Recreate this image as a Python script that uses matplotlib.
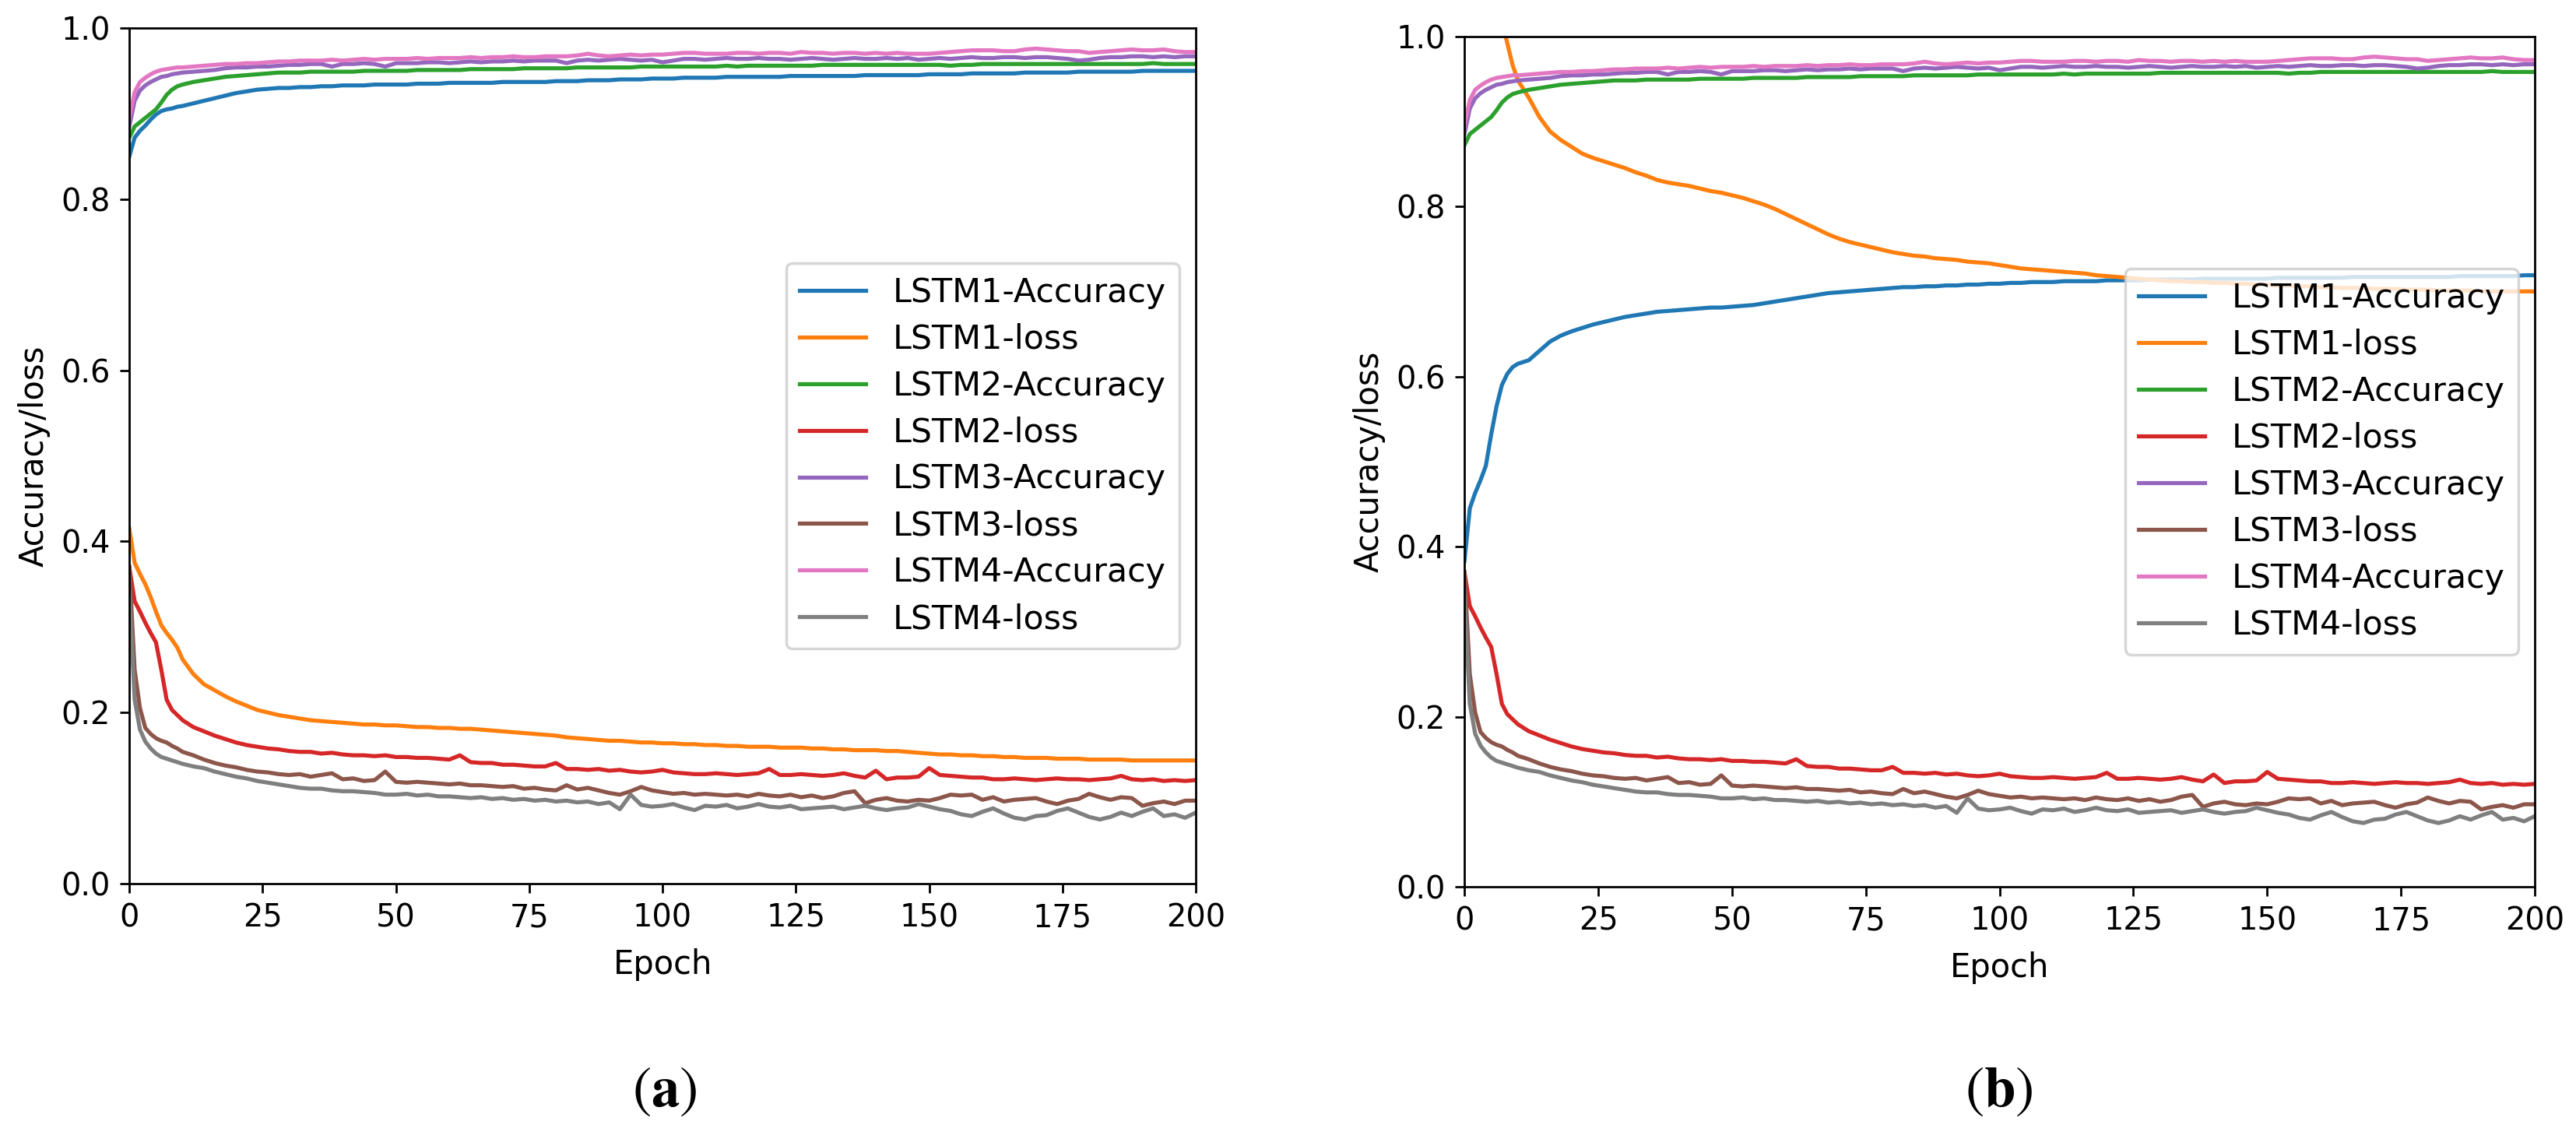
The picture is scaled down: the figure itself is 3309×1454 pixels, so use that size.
import matplotlib
matplotlib.use("Agg")
import matplotlib.pyplot as plt

plt.rcParams['font.size'] = 11.5
plt.rcParams['axes.labelsize'] = 12
plt.rcParams['legend.fontsize'] = 12.3
plt.rcParams['legend.labelspacing'] = 0.42
plt.rcParams['mathtext.fontset'] = 'stix'

# epochs 0..10 then every 2nd epoch up to 200
epochs = list(range(0, 11)) + list(range(12, 201, 2))

labels = ["LSTM1-Accuracy", "LSTM1-loss", "LSTM2-Accuracy", "LSTM2-loss",
          "LSTM3-Accuracy", "LSTM3-loss", "LSTM4-Accuracy", "LSTM4-loss"]

# ---- panel (a) LSTM1 ----
a_lstm1_acc = [0.850, 0.872, 0.880, 0.886, 0.893, 0.899, 0.903, 0.905, 0.906, 0.908, 0.909,
               0.912, 0.915, 0.918, 0.921, 0.924, 0.926, 0.928, 0.929, 0.930, 0.930,
               0.931, 0.931, 0.932, 0.932, 0.933, 0.933, 0.933, 0.934, 0.934, 0.934,
               0.934, 0.935, 0.935, 0.935, 0.936, 0.936, 0.936, 0.936, 0.936, 0.937,
               0.937, 0.937, 0.937, 0.937, 0.938, 0.938, 0.938, 0.939, 0.939, 0.939,
               0.940, 0.940, 0.940, 0.941, 0.941, 0.941, 0.942, 0.942, 0.942, 0.942,
               0.943, 0.943, 0.943, 0.943, 0.943, 0.943, 0.944, 0.944, 0.944, 0.944,
               0.944, 0.944, 0.944, 0.945, 0.945, 0.945, 0.945, 0.945, 0.945, 0.946,
               0.946, 0.946, 0.946, 0.947, 0.947, 0.947, 0.947, 0.947, 0.948, 0.948,
               0.948, 0.948, 0.948, 0.949, 0.949, 0.949, 0.949, 0.949, 0.949, 0.950,
               0.950, 0.950, 0.950, 0.950, 0.950]
a_lstm1_loss = [0.415, 0.375, 0.362, 0.350, 0.335, 0.318, 0.302, 0.293, 0.285, 0.276, 0.262,
                0.245, 0.233, 0.226, 0.219, 0.213, 0.208, 0.203, 0.200, 0.197, 0.195,
                0.193, 0.191, 0.190, 0.189, 0.188, 0.187, 0.186, 0.186, 0.185, 0.185,
                0.184, 0.183, 0.183, 0.182, 0.182, 0.181, 0.181, 0.180, 0.179, 0.178,
                0.177, 0.176, 0.175, 0.174, 0.173, 0.171, 0.170, 0.169, 0.168, 0.167,
                0.167, 0.166, 0.165, 0.165, 0.164, 0.164, 0.163, 0.163, 0.162, 0.162,
                0.161, 0.161, 0.160, 0.160, 0.160, 0.159, 0.159, 0.159, 0.158, 0.158,
                0.157, 0.157, 0.156, 0.156, 0.156, 0.155, 0.155, 0.154, 0.153, 0.152,
                0.151, 0.151, 0.150, 0.150, 0.149, 0.149, 0.148, 0.148, 0.147, 0.147,
                0.147, 0.146, 0.146, 0.146, 0.145, 0.145, 0.145, 0.145, 0.144, 0.144,
                0.144, 0.144, 0.144, 0.144, 0.144]

# ---- panel (b) LSTM1 ----
b_lstm1_acc = [0.383, 0.445, 0.463, 0.478, 0.495, 0.532, 0.565, 0.590, 0.603, 0.611, 0.615,
               0.619, 0.630, 0.641, 0.648, 0.653, 0.657, 0.661, 0.664, 0.667, 0.670,
               0.672, 0.674, 0.676, 0.677, 0.678, 0.679, 0.680, 0.681, 0.681, 0.682,
               0.683, 0.684, 0.686, 0.688, 0.690, 0.692, 0.694, 0.696, 0.698, 0.699,
               0.700, 0.701, 0.702, 0.703, 0.704, 0.705, 0.705, 0.706, 0.706, 0.707,
               0.707, 0.708, 0.708, 0.709, 0.709, 0.710, 0.710, 0.711, 0.711, 0.711,
               0.712, 0.712, 0.712, 0.712, 0.713, 0.713, 0.713, 0.713, 0.714, 0.714,
               0.714, 0.714, 0.714, 0.715, 0.715, 0.715, 0.715, 0.715, 0.715, 0.715,
               0.716, 0.716, 0.716, 0.716, 0.716, 0.716, 0.716, 0.717, 0.717, 0.717,
               0.717, 0.717, 0.717, 0.717, 0.717, 0.717, 0.717, 0.718, 0.718, 0.718,
               0.718, 0.718, 0.718, 0.719, 0.719]
b_lstm1_loss = [1.400, 1.300, 1.220, 1.150, 1.100, 1.060, 1.040, 1.018, 0.992, 0.966, 0.948,
                0.928, 0.905, 0.888, 0.878, 0.870, 0.862, 0.857, 0.853, 0.849, 0.845,
                0.840, 0.836, 0.831, 0.828, 0.826, 0.824, 0.821, 0.818, 0.816, 0.813,
                0.810, 0.806, 0.802, 0.797, 0.791, 0.785, 0.779, 0.773, 0.767, 0.762,
                0.758, 0.755, 0.752, 0.749, 0.746, 0.744, 0.742, 0.741, 0.739, 0.738,
                0.737, 0.735, 0.734, 0.733, 0.731, 0.729, 0.727, 0.726, 0.725, 0.724,
                0.723, 0.722, 0.721, 0.719, 0.718, 0.717, 0.716, 0.715, 0.714, 0.713,
                0.712, 0.712, 0.711, 0.711, 0.710, 0.710, 0.709, 0.709, 0.708, 0.708,
                0.707, 0.707, 0.706, 0.706, 0.705, 0.705, 0.704, 0.704, 0.704, 0.703,
                0.703, 0.703, 0.702, 0.702, 0.702, 0.701, 0.701, 0.701, 0.701, 0.700,
                0.700, 0.700, 0.700, 0.700, 0.700]

# ---- LSTM2..4 (same in both panels) ----
lstm2_acc = [0.872, 0.885, 0.890, 0.895, 0.900, 0.905, 0.913, 0.922, 0.928, 0.932, 0.934,
             0.937, 0.939, 0.941, 0.943, 0.944, 0.945, 0.946, 0.947, 0.948, 0.948,
             0.948, 0.949, 0.949, 0.949, 0.949, 0.949, 0.950, 0.950, 0.950, 0.950,
             0.950, 0.951, 0.951, 0.951, 0.951, 0.951, 0.952, 0.952, 0.952, 0.952,
             0.952, 0.953, 0.953, 0.953, 0.953, 0.953, 0.954, 0.954, 0.954, 0.954,
             0.954, 0.954, 0.955, 0.955, 0.955, 0.955, 0.955, 0.955, 0.955, 0.955,
             0.956, 0.955, 0.956, 0.956, 0.956, 0.956, 0.956, 0.956, 0.956, 0.957,
             0.957, 0.957, 0.957, 0.957, 0.957, 0.957, 0.957, 0.957, 0.957, 0.957,
             0.957, 0.956, 0.957, 0.957, 0.958, 0.958, 0.958, 0.958, 0.958, 0.958,
             0.958, 0.958, 0.958, 0.958, 0.958, 0.958, 0.958, 0.958, 0.958, 0.958,
             0.959, 0.958, 0.958, 0.958, 0.958]
lstm2_loss = [0.370, 0.330, 0.318, 0.305, 0.293, 0.282, 0.250, 0.215, 0.203, 0.197, 0.191,
              0.183, 0.178, 0.173, 0.169, 0.165, 0.162, 0.160, 0.158, 0.157, 0.155,
              0.154, 0.154, 0.152, 0.153, 0.151, 0.150, 0.150, 0.149, 0.150, 0.148,
              0.148, 0.147, 0.147, 0.146, 0.145, 0.150, 0.142, 0.141, 0.141, 0.139,
              0.139, 0.138, 0.137, 0.137, 0.141, 0.134, 0.134, 0.133, 0.134, 0.132,
              0.133, 0.131, 0.130, 0.131, 0.133, 0.130, 0.129, 0.128, 0.128, 0.129,
              0.128, 0.127, 0.128, 0.129, 0.134, 0.127, 0.127, 0.128, 0.127, 0.126,
              0.127, 0.129, 0.126, 0.124, 0.132, 0.122, 0.124, 0.124, 0.125, 0.135,
              0.127, 0.126, 0.125, 0.124, 0.124, 0.122, 0.122, 0.123, 0.122, 0.121,
              0.122, 0.123, 0.122, 0.122, 0.121, 0.122, 0.123, 0.126, 0.122, 0.121,
              0.122, 0.120, 0.121, 0.120, 0.121]
lstm3_acc = [0.885, 0.915, 0.927, 0.933, 0.937, 0.940, 0.943, 0.944, 0.946, 0.947, 0.948,
             0.949, 0.950, 0.951, 0.953, 0.954, 0.954, 0.955, 0.955, 0.956, 0.957,
             0.957, 0.958, 0.958, 0.955, 0.958, 0.958, 0.959, 0.958, 0.955, 0.959,
             0.959, 0.959, 0.960, 0.960, 0.959, 0.960, 0.961, 0.960, 0.961, 0.961,
             0.962, 0.961, 0.962, 0.962, 0.962, 0.959, 0.962, 0.963, 0.962, 0.963,
             0.964, 0.963, 0.962, 0.963, 0.960, 0.962, 0.964, 0.964, 0.963, 0.964,
             0.965, 0.964, 0.964, 0.965, 0.964, 0.964, 0.963, 0.964, 0.965, 0.964,
             0.963, 0.964, 0.965, 0.964, 0.964, 0.965, 0.964, 0.965, 0.963, 0.964,
             0.965, 0.964, 0.965, 0.966, 0.965, 0.965, 0.966, 0.966, 0.965, 0.966,
             0.966, 0.965, 0.964, 0.962, 0.963, 0.965, 0.966, 0.966, 0.967, 0.967,
             0.966, 0.967, 0.966, 0.967, 0.967]
lstm3_loss = [0.370, 0.250, 0.205, 0.182, 0.175, 0.170, 0.167, 0.165, 0.161, 0.158, 0.154,
              0.150, 0.145, 0.141, 0.138, 0.136, 0.133, 0.131, 0.130, 0.128, 0.127,
              0.128, 0.125, 0.127, 0.129, 0.122, 0.123, 0.120, 0.121, 0.131, 0.119,
              0.118, 0.119, 0.118, 0.117, 0.116, 0.117, 0.115, 0.115, 0.114, 0.113,
              0.114, 0.111, 0.112, 0.110, 0.109, 0.115, 0.110, 0.112, 0.109, 0.106,
              0.104, 0.108, 0.113, 0.109, 0.107, 0.105, 0.106, 0.104, 0.105, 0.104,
              0.103, 0.104, 0.102, 0.105, 0.103, 0.102, 0.104, 0.101, 0.103, 0.100,
              0.102, 0.106, 0.108, 0.094, 0.098, 0.100, 0.097, 0.096, 0.098, 0.097,
              0.100, 0.104, 0.103, 0.104, 0.098, 0.101, 0.096, 0.098, 0.099, 0.100,
              0.096, 0.093, 0.097, 0.099, 0.105, 0.101, 0.098, 0.101, 0.100, 0.091,
              0.094, 0.096, 0.093, 0.097, 0.097]
lstm4_acc = [0.895, 0.925, 0.937, 0.942, 0.946, 0.949, 0.951, 0.952, 0.953, 0.954, 0.954,
             0.955, 0.956, 0.957, 0.958, 0.958, 0.959, 0.959, 0.960, 0.961, 0.961,
             0.962, 0.962, 0.962, 0.963, 0.962, 0.963, 0.964, 0.963, 0.964, 0.964,
             0.964, 0.965, 0.964, 0.965, 0.965, 0.965, 0.966, 0.965, 0.966, 0.966,
             0.967, 0.966, 0.966, 0.967, 0.967, 0.967, 0.968, 0.970, 0.968, 0.967,
             0.968, 0.969, 0.968, 0.969, 0.969, 0.970, 0.971, 0.971, 0.970, 0.970,
             0.970, 0.971, 0.971, 0.970, 0.971, 0.971, 0.970, 0.972, 0.971, 0.971,
             0.970, 0.971, 0.971, 0.970, 0.971, 0.970, 0.971, 0.970, 0.970, 0.970,
             0.971, 0.972, 0.973, 0.974, 0.974, 0.974, 0.973, 0.973, 0.975, 0.976,
             0.975, 0.974, 0.973, 0.973, 0.971, 0.972, 0.973, 0.974, 0.975, 0.974,
             0.974, 0.975, 0.973, 0.972, 0.972]
lstm4_loss = [0.340, 0.215, 0.180, 0.166, 0.158, 0.152, 0.148, 0.146, 0.144, 0.142, 0.140,
              0.137, 0.135, 0.131, 0.128, 0.125, 0.123, 0.120, 0.118, 0.116, 0.114,
              0.112, 0.111, 0.111, 0.109, 0.108, 0.108, 0.107, 0.106, 0.104, 0.104,
              0.105, 0.103, 0.104, 0.102, 0.102, 0.101, 0.100, 0.101, 0.099, 0.100,
              0.098, 0.099, 0.097, 0.098, 0.096, 0.097, 0.095, 0.096, 0.093, 0.095,
              0.087, 0.104, 0.092, 0.090, 0.091, 0.093, 0.089, 0.086, 0.091, 0.090,
              0.092, 0.088, 0.090, 0.093, 0.090, 0.089, 0.091, 0.087, 0.088, 0.089,
              0.090, 0.087, 0.089, 0.091, 0.088, 0.086, 0.088, 0.089, 0.093, 0.090,
              0.087, 0.085, 0.081, 0.079, 0.084, 0.088, 0.082, 0.077, 0.075, 0.079,
              0.080, 0.085, 0.088, 0.083, 0.078, 0.075, 0.078, 0.083, 0.079, 0.084,
              0.088, 0.079, 0.081, 0.077, 0.083]

panel_a = [a_lstm1_acc, a_lstm1_loss, lstm2_acc, lstm2_loss,
           lstm3_acc, lstm3_loss, lstm4_acc, lstm4_loss]
panel_b = [b_lstm1_acc, b_lstm1_loss, lstm2_acc, lstm2_loss,
           lstm3_acc, lstm3_loss, lstm4_acc, lstm4_loss]

fig = plt.figure(figsize=(3309 / 250, 1454 / 250), dpi=250)
ax1 = fig.add_axes([0.0502, 0.2194, 0.4140, 0.7558])
ax2 = fig.add_axes([0.5685, 0.2166, 0.4155, 0.7514])

for ax, series, tag, cx in [(ax1, panel_a, 'a', 0.258), (ax2, panel_b, 'b', 0.776)]:
    for vals, lab in zip(series, labels):
        ax.plot(epochs, vals, label=lab, linewidth=1.5)
    ax.set_xlim(0, 200)
    ax.set_ylim(0, 1.0)
    ax.set_xlabel("Epoch", labelpad=5.5)
    ax.set_ylabel("Accuracy/loss")
    ax.legend(loc='center right')
    fig.text(cx, 0.037, r'$(\mathbf{' + tag + r'})$', ha='center', va='center', fontsize=21)

fig.savefig("out.png", dpi=250)
